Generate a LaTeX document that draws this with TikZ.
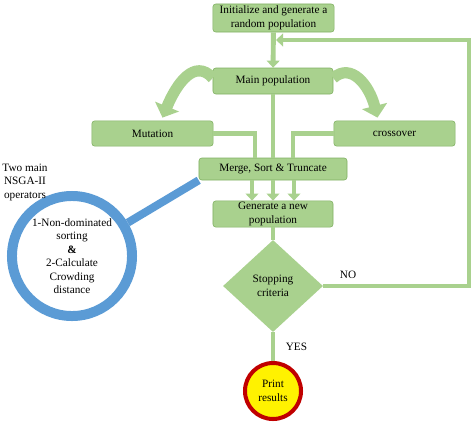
\documentclass[tikz,border=0pt]{standalone}
\usepackage{fontspec}
\setmainfont{Liberation Serif}
\usetikzlibrary{shapes.geometric,arrows.meta,calc}
\definecolor{boxgreen}{RGB}{169,209,142}
\definecolor{edgegreen}{RGB}{128,176,98}
\definecolor{lensblue}{RGB}{91,155,213}
\definecolor{printred}{RGB}{192,0,0}

\begin{document}
\begin{tikzpicture}
                            [x=0.025cm, y=-0.025cm,
                            font=\fontsize{8}{9.6}\selectfont,
                            box/.style = {rectangle, rounded corners=2pt,
                                        fill=boxgreen, draw=edgegreen,
                                        thin, align=center, inner sep=1pt},
                            flow/.style = {draw=boxgreen, line width=3.5pt},
                            flowarrow/.style = {flow, -{Triangle[length=5pt,width=9pt]}},
                            bigarrow/.style = {draw=boxgreen, line width=8pt,
                                        -{Triangle[length=8.5pt,width=18pt]}}]
                            \useasboundingbox (0,0) rectangle (474,422);
                            % Cajas del algoritmo
                            \node[box, minimum width=3.03cm, minimum height=0.7cm] (init) at (273.5,18) {Initialize and generate a\\random population};
                            \node[box, minimum width=3cm, minimum height=0.65cm] (main) at (273,81) {Main population};
                            \node[box, minimum width=3.03cm, minimum height=0.63cm] (mut) at (152.5,133.5) {Mutation};
                            \node[box, minimum width=3.03cm, minimum height=0.63cm] (cross) at (394.5,133.5) {crossover};
                            \node[box, minimum width=3.7cm, minimum height=0.55cm] (merge) at (273,169) {Merge, Sort \& Truncate};
                            \node[box, minimum width=3cm, minimum height=0.65cm] (gen) at (273,214) {Generate a new\\population};
                            % Decision
                            \node[diamond, fill=boxgreen, minimum width=2.5cm, minimum height=2.3cm,
                                  inner sep=0pt, align=center] (stop) at (273,286) {Stopping\\criteria};
                            % Fin
                            \node[circle, fill=yellow, draw=printred, line width=2.85pt, minimum size=1.4cm,
                                  inner sep=0pt, align=center] (print) at (273,391) {Print\\results};
                            % Lupa
                            \node[circle, draw=lensblue, line width=7.1pt, minimum size=3cm,
                                  inner sep=0pt, align=center] (lens) at (72,256)
                                  {1-Non-dominated\\sorting\\\textbf{\&}\\2-Calculate\\Crowding\\distance};
                            \node[align=center] (ops) at (25,182) {Two main\\NSGA-II\\operators};
                            \draw[lensblue, line width=5.7pt] (lens) -- (merge.south west);
                            % Conexiones
                            \draw[flowarrow] (init) -- (main);
                            \draw[bigarrow] ($(main.west)+(0,-3)$) .. controls +(-18,-20) and +(14,-34) .. ($(mut.north)+(10,-3)$);
                            \draw[bigarrow] ($(main.east)+(0,-3)$) .. controls +(18,-16) and +(-8,-32) .. ($(cross.north)+(-17,-3)$);
                            \draw[flow] (mut.east) -| ($(merge.north)+(-18,0)$);
                            \draw[flow] (main) -- (merge);
                            \draw[flow] (cross.west) -| ($(merge.north)+(20,0)$);
                            \foreach \dx in {-21,0,21}
                                \draw[flowarrow] ($(merge.south)+(\dx,0)$) -- ($(gen.north)+(\dx,0)$);
                            \draw[flow] (gen) -- (stop);
                            \draw[flow] (stop) -- node[right=4pt] (yes) {YES} (print);
                            % Vuelta atras
                            \coordinate (turn) at (469,40);
                            \coordinate (back) at (276,40);
                            \draw[flowarrow] (stop.east) -| node[pos=0.085, above=0pt] (no) {NO} (turn) -- (back);
                        \end{tikzpicture}
\end{document}
